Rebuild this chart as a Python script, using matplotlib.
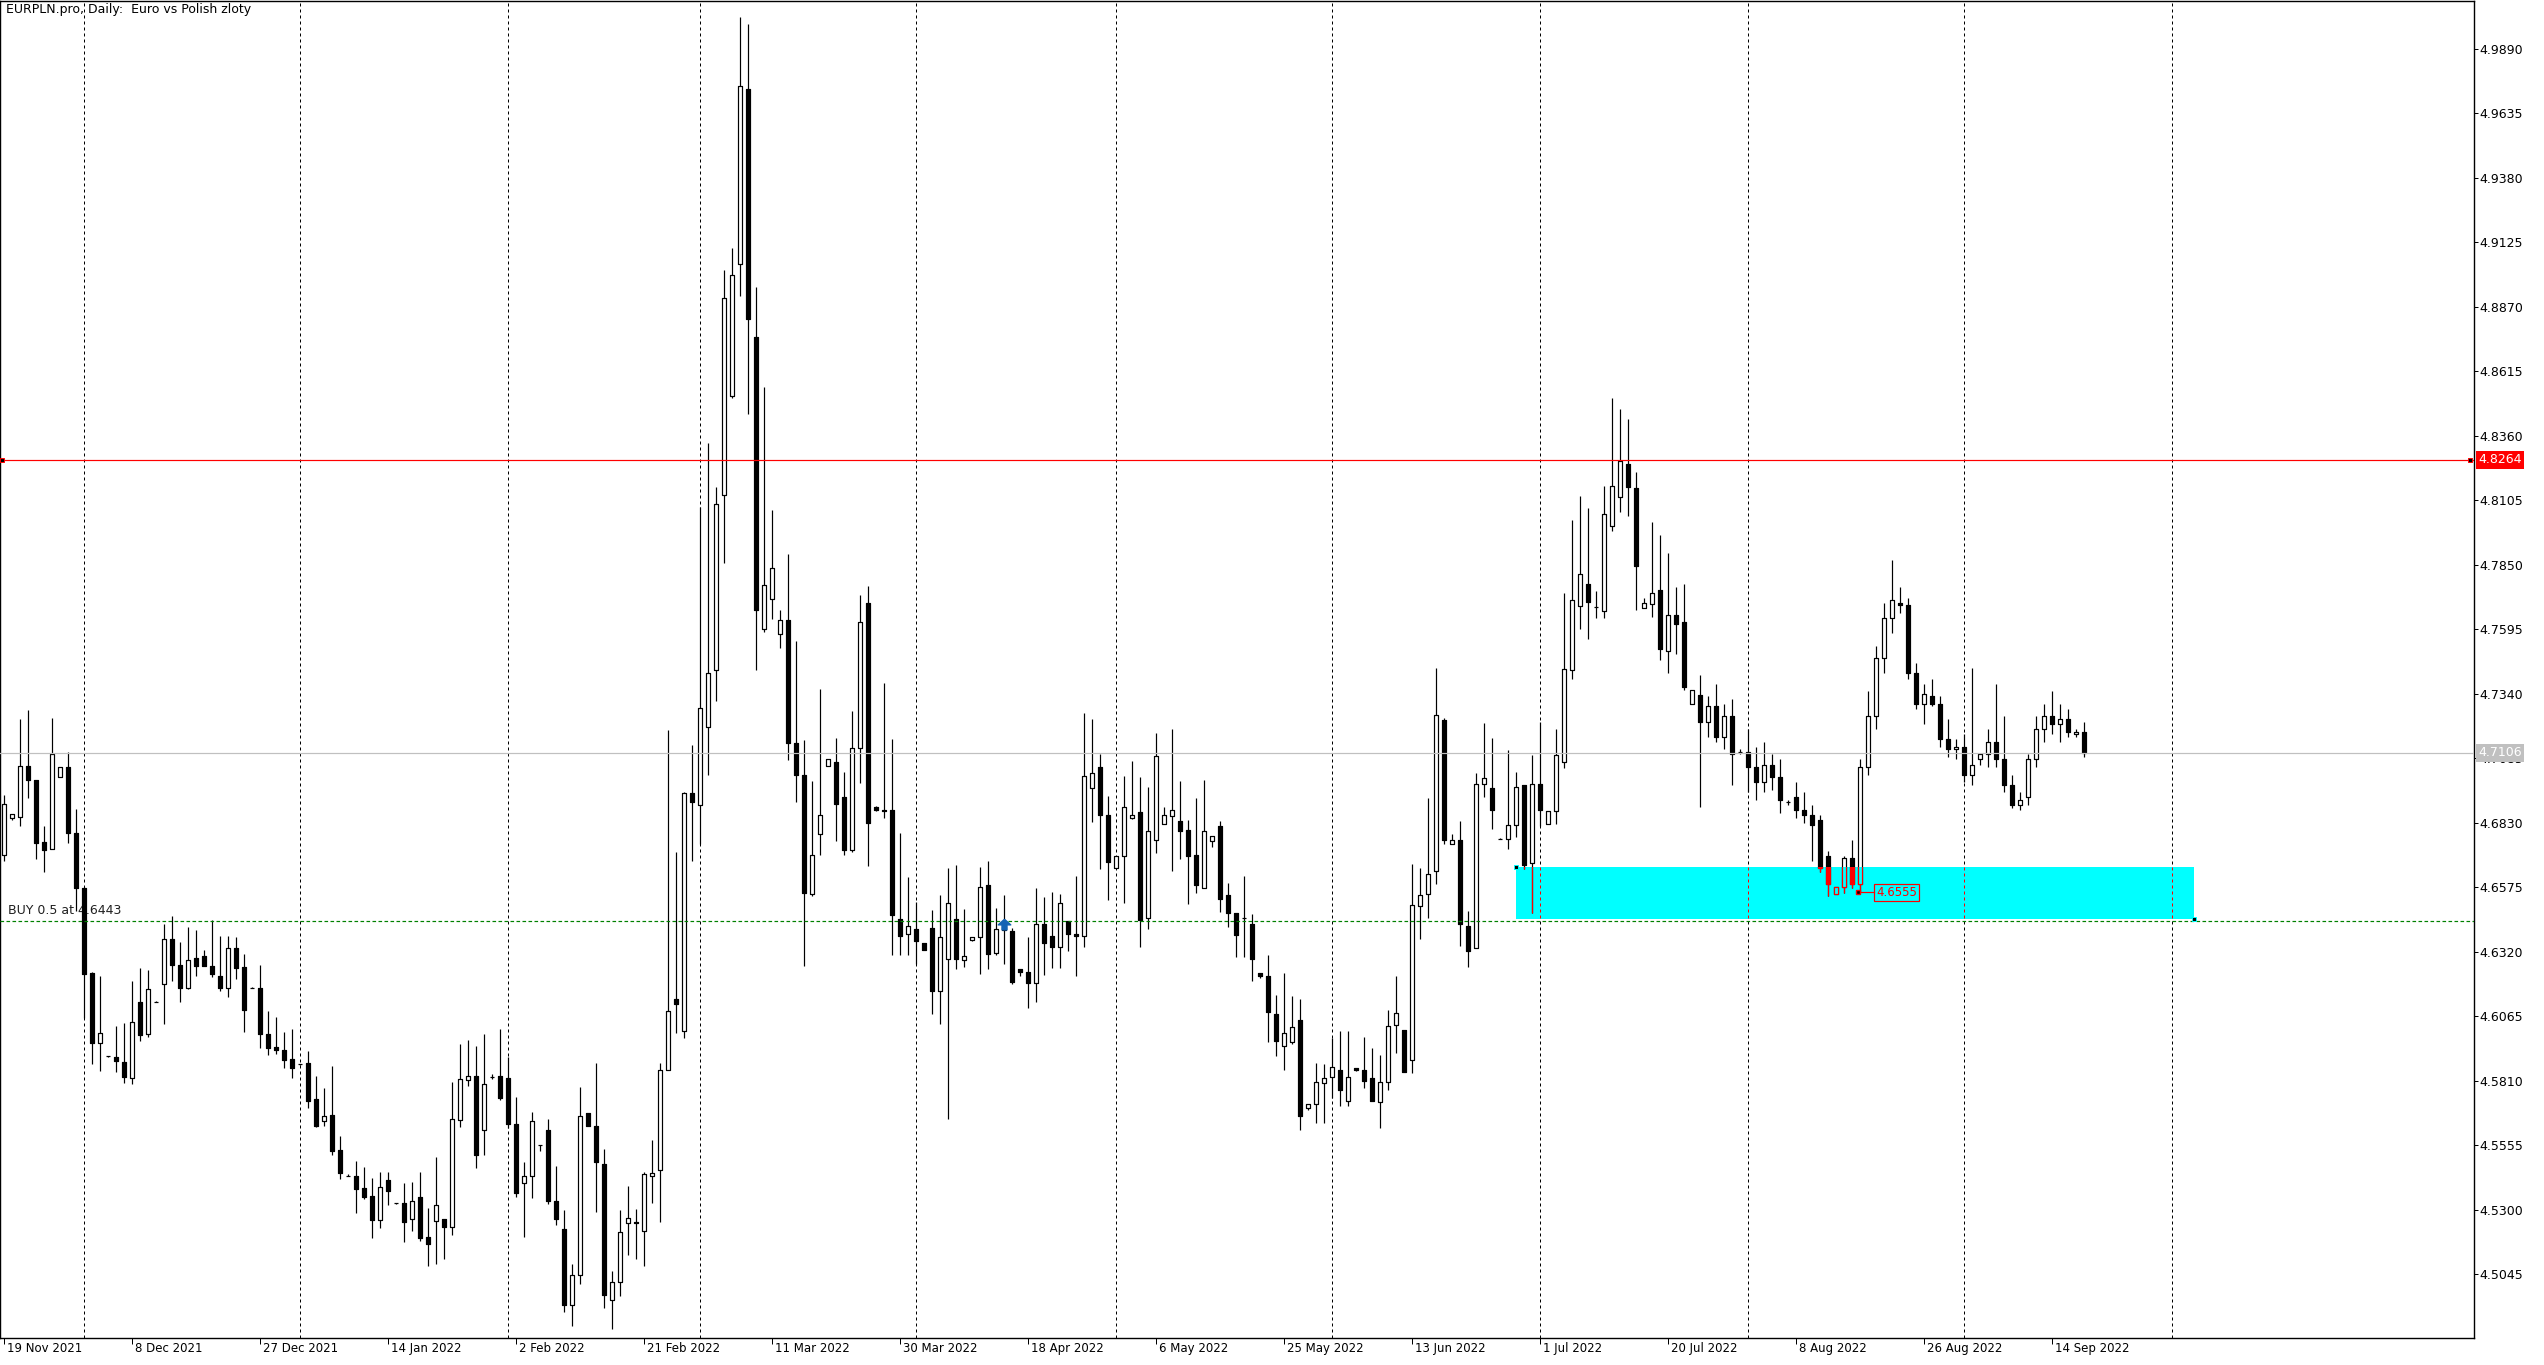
import matplotlib
matplotlib.use("Agg")
import matplotlib.pyplot as plt
import matplotlib.transforms as mtransforms
from matplotlib.collections import LineCollection, PatchCollection
from matplotlib.patches import Rectangle
from matplotlib.path import Path
import pandas as pd

# EURPLN daily bars (broker has Sunday bars, no Saturdays), from 19 Nov 2021
opens = [4.6704, 4.6849, 4.6853, 4.7056, 4.6999, 4.6754, 4.6725, 4.7010, 4.7049, 4.6789,
         4.6573, 4.6236, 4.5958, 4.5907, 4.5904, 4.5882, 4.5821, 4.6120, 4.5995, 4.6123,
         4.6192, 4.6371, 4.6269, 4.6177, 4.6295, 4.6304, 4.6265, 4.6225, 4.6177, 4.6335,
         4.6260, 4.6177, 4.6177, 4.5995, 4.5944, 4.5933, 4.5894, 4.5875, 4.5878, 4.5736,
         4.5649, 4.5675, 4.5535, 4.5435, 4.5432, 4.5385, 4.5356, 4.5258, 4.5419, 4.5326,
         4.5326, 4.5265, 4.5349, 4.5192, 4.5256, 4.5265, 4.5231, 4.5656, 4.5812, 4.5828,
         4.5614, 4.5825, 4.5828, 4.5820, 4.5639, 4.5407, 4.5432, 4.5555, 4.5614, 4.5336,
         4.5225, 4.4925, 4.5041, 4.5684, 4.5631, 4.5482, 4.4941, 4.5013, 4.5248, 4.5252,
         4.5216, 4.5435, 4.5455, 4.5853, 4.6131, 4.6007, 4.6947, 4.6900, 4.7207, 4.7433,
         4.8126, 4.8516, 4.9037, 4.9729, 4.8750, 4.7597, 4.7715, 4.7577, 4.7630, 4.7144,
         4.7018, 4.6547, 4.6786, 4.7056, 4.7068, 4.6930, 4.6721, 4.7124, 4.7698, 4.6892,
         4.6880, 4.6880, 4.6449, 4.6389, 4.6408, 4.6353, 4.6412, 4.6165, 4.6292, 4.6451,
         4.6289, 4.6367, 4.6377, 4.6585, 4.6313, 4.6419, 4.6401, 4.6250, 4.6238, 4.6198,
         4.6429, 4.6384, 4.6339, 4.6440, 4.6388, 4.6384, 4.6969, 4.7051, 4.6861, 4.6652,
         4.6697, 4.6849, 4.6873, 4.6454, 4.6762, 4.6825, 4.6856, 4.6838, 4.6803, 4.6701,
         4.6570, 4.6758, 4.6818, 4.6546, 4.6473, 4.6454, 4.6429, 4.6236, 4.6224, 4.6073,
         4.5949, 4.5961, 4.6048, 4.5703, 4.5718, 4.5801, 4.5824, 4.5852, 4.5730, 4.5862,
         4.5852, 4.5820, 4.5724, 4.5805, 4.6030, 4.6011, 4.5893, 4.6499, 4.6547, 4.6639,
         4.7236, 4.6744, 4.6763, 4.6423, 4.6333, 4.6984, 4.6968, 4.6767, 4.6767, 4.6819,
         4.6978, 4.6672, 4.6982, 4.6825, 4.6878, 4.7070, 4.7433, 4.7686, 4.7772, 4.7682,
         4.7667, 4.8002, 4.8117, 4.8247, 4.8155, 4.7677, 4.7696, 4.7749, 4.7508, 4.7653,
         4.7625, 4.7299, 4.7336, 4.7230, 4.7290, 4.7170, 4.7250, 4.7110, 4.7110, 4.7050,
         4.6990, 4.7060, 4.7010, 4.6910, 4.6930, 4.6880, 4.6860, 4.6840, 4.6700, 4.6550,
         4.6577, 4.6690, 4.6588, 4.7050, 4.7250, 4.7480, 4.7640, 4.7700, 4.7690, 4.7420,
         4.7300, 4.7330, 4.7300, 4.7160, 4.7120, 4.7130, 4.7020, 4.7080, 4.7100, 4.7150,
         4.7080, 4.6980, 4.6900, 4.6930, 4.7080, 4.7200, 4.7250, 4.7220, 4.7240, 4.7180,
         4.7190]
highs = [4.6940, 4.6866, 4.7240, 4.7277, 4.7000, 4.6817, 4.7245, 4.7049, 4.7109, 4.6883,
         4.6576, 4.6240, 4.6225, 4.5909, 4.6028, 4.6040, 4.6203, 4.6254, 4.6247, 4.6125,
         4.6430, 4.6463, 4.6357, 4.6418, 4.6407, 4.6328, 4.6447, 4.6383, 4.6383, 4.6379,
         4.6309, 4.6179, 4.6266, 4.6087, 4.6060, 4.6003, 4.6014, 4.5877, 4.5929, 4.5827,
         4.5783, 4.5868, 4.5593, 4.5443, 4.5493, 4.5468, 4.5427, 4.5449, 4.5449, 4.5328,
         4.5405, 4.5410, 4.5449, 4.5308, 4.5507, 4.5265, 4.5805, 4.5954, 4.5971, 4.5946,
         4.5995, 4.5836, 4.6015, 4.5903, 4.5747, 4.5490, 4.5687, 4.5557, 4.5659, 4.5472,
         4.5299, 4.5084, 4.5787, 4.5684, 4.5879, 4.5538, 4.5057, 4.5299, 4.5394, 4.5303,
         4.5448, 4.5576, 4.5879, 4.7197, 4.6716, 4.6952, 4.7139, 4.8080, 4.8332, 4.8158,
         4.9014, 4.9102, 5.0014, 4.9988, 4.8949, 4.8553, 4.8068, 4.7672, 4.7894, 4.7547,
         4.7156, 4.6993, 4.7358, 4.7081, 4.7164, 4.7031, 4.7270, 4.7730, 4.7766, 4.6897,
         4.7383, 4.7162, 4.6791, 4.6615, 4.6516, 4.6353, 4.6483, 4.6546, 4.6649, 4.6662,
         4.6487, 4.6380, 4.6655, 4.6680, 4.6492, 4.6546, 4.6412, 4.6250, 4.6377, 4.6571,
         4.6536, 4.6557, 4.6550, 4.6440, 4.6621, 4.7263, 4.7241, 4.7100, 4.6934, 4.6697,
         4.7016, 4.7075, 4.7009, 4.6973, 4.7184, 4.6892, 4.7202, 4.6993, 4.6839, 4.6927,
         4.6997, 4.6779, 4.6835, 4.6593, 4.6473, 4.6619, 4.6468, 4.6236, 4.6306, 4.6148,
         4.6236, 4.6144, 4.6133, 4.5717, 4.5881, 4.5877, 4.5977, 4.6005, 4.6005, 4.5862,
         4.5982, 4.5938, 4.5910, 4.6088, 4.6222, 4.6011, 4.6666, 4.6652, 4.6926, 4.7441,
         4.7242, 4.6786, 4.6838, 4.6480, 4.7026, 4.7223, 4.7165, 4.6769, 4.7116, 4.7030,
         4.6978, 4.7098, 4.7227, 4.6878, 4.7202, 4.7738, 4.8025, 4.8122, 4.8073, 4.7747,
         4.8161, 4.8509, 4.8465, 4.8427, 4.8218, 4.7720, 4.8017, 4.7967, 4.7897, 4.7763,
         4.7772, 4.7355, 4.7414, 4.7330, 4.7380, 4.7300, 4.7320, 4.7120, 4.7200, 4.7130,
         4.7150, 4.7100, 4.7080, 4.6920, 4.6990, 4.6950, 4.6900, 4.6860, 4.6720, 4.6577,
         4.6700, 4.6760, 4.7080, 4.7350, 4.7530, 4.7700, 4.7870, 4.7760, 4.7720, 4.7460,
         4.7380, 4.7400, 4.7330, 4.7240, 4.7160, 4.7180, 4.7440, 4.7100, 4.7200, 4.7380,
         4.7250, 4.7020, 4.6950, 4.7100, 4.7250, 4.7300, 4.7350, 4.7300, 4.7280, 4.7200,
         4.7230]
lows = [4.6680, 4.6839, 4.6817, 4.6929, 4.6688, 4.6637, 4.6725, 4.7010, 4.6751, 4.6481,
        4.6057, 4.5875, 4.5849, 4.5905, 4.5846, 4.5802, 4.5797, 4.5967, 4.5984, 4.6121,
        4.6033, 4.6203, 4.6120, 4.6171, 4.6225, 4.6265, 4.6218, 4.6164, 4.6141, 4.6211,
        4.6002, 4.6175, 4.5941, 4.5911, 4.5916, 4.5860, 4.5821, 4.5873, 4.5703, 4.5627,
        4.5631, 4.5517, 4.5422, 4.5432, 4.5286, 4.5341, 4.5187, 4.5228, 4.5319, 4.5324,
        4.5173, 4.5215, 4.5178, 4.5076, 4.5084, 4.5107, 4.5200, 4.5626, 4.5788, 4.5463,
        4.5518, 4.5816, 4.5734, 4.5621, 4.5352, 4.5192, 4.5347, 4.5531, 4.5324, 4.5240,
        4.4897, 4.4839, 4.5008, 4.5631, 4.5289, 4.4910, 4.4830, 4.4958, 4.5120, 4.5107,
        4.5079, 4.5328, 4.5253, 4.5853, 4.5999, 4.5979, 4.6678, 4.6746, 4.7018, 4.7312,
        4.7856, 4.8511, 4.8913, 4.8445, 4.7433, 4.7584, 4.7635, 4.7521, 4.7076, 4.6910,
        4.6263, 4.6540, 4.6703, 4.7056, 4.6759, 4.6703, 4.6716, 4.6985, 4.6658, 4.6875,
        4.6847, 4.6308, 4.6308, 4.6308, 4.6270, 4.6325, 4.6073, 4.6034, 4.5657, 4.6253,
        4.6260, 4.6364, 4.6231, 4.6250, 4.6306, 4.6271, 4.6191, 4.6224, 4.6099, 4.6120,
        4.6229, 4.6257, 4.6257, 4.6323, 4.6222, 4.6337, 4.6832, 4.6645, 4.6525, 4.6650,
        4.6511, 4.6845, 4.6339, 4.6408, 4.6711, 4.6825, 4.6638, 4.6687, 4.6507, 4.6553,
        4.6570, 4.6732, 4.6478, 4.6416, 4.6299, 4.6299, 4.6205, 4.6215, 4.5963, 4.5907,
        4.5851, 4.5954, 4.5615, 4.5696, 4.5642, 4.5642, 4.5743, 4.5709, 4.5709, 4.5850,
        4.5782, 4.5730, 4.5623, 4.5772, 4.5919, 4.5843, 4.5839, 4.6371, 4.6455, 4.6589,
        4.6744, 4.6744, 4.6342, 4.6260, 4.6333, 4.6930, 4.6806, 4.6765, 4.6725, 4.6773,
        4.6647, 4.6474, 4.6815, 4.6825, 4.6825, 4.7045, 4.7399, 4.7596, 4.7556, 4.7638,
        4.7638, 4.7983, 4.8059, 4.8044, 4.7671, 4.7677, 4.7644, 4.7472, 4.7422, 4.7495,
        4.7355, 4.7299, 4.6892, 4.7170, 4.7150, 4.7120, 4.6980, 4.7100, 4.6950, 4.6920,
        4.6950, 4.6960, 4.6870, 4.6900, 4.6850, 4.6830, 4.6680, 4.6637, 4.6542, 4.6548,
        4.6552, 4.6570, 4.6555, 4.7020, 4.7200, 4.7420, 4.7580, 4.7660, 4.7400, 4.7280,
        4.7220, 4.7290, 4.7130, 4.7090, 4.7080, 4.6990, 4.6980, 4.7060, 4.7050, 4.7050,
        4.6950, 4.6890, 4.6880, 4.6900, 4.7050, 4.7150, 4.7180, 4.7150, 4.7170, 4.7170,
        4.7090]
closes = [4.6904, 4.6864, 4.7056, 4.6999, 4.6751, 4.6722, 4.7100, 4.7049, 4.6789, 4.6573,
          4.6230, 4.5958, 4.5999, 4.5907, 4.5889, 4.5824, 4.6043, 4.5992, 4.6174, 4.6123,
          4.6371, 4.6266, 4.6177, 4.6288, 4.6262, 4.6265, 4.6230, 4.6177, 4.6335, 4.6257,
          4.6090, 4.6177, 4.5995, 4.5938, 4.5930, 4.5892, 4.5860, 4.5875, 4.5729, 4.5631,
          4.5670, 4.5531, 4.5444, 4.5435, 4.5382, 4.5352, 4.5258, 4.5389, 4.5372, 4.5326,
          4.5253, 4.5336, 4.5190, 4.5165, 4.5319, 4.5231, 4.5659, 4.5817, 4.5828, 4.5515,
          4.5795, 4.5825, 4.5742, 4.5637, 4.5366, 4.5432, 4.5651, 4.5555, 4.5333, 4.5265,
          4.4925, 4.5041, 4.5672, 4.5631, 4.5488, 4.4963, 4.5013, 4.5211, 4.5266, 4.5248,
          4.5440, 4.5444, 4.5853, 4.6085, 4.6112, 4.6947, 4.6912, 4.7282, 4.7421, 4.8088,
          4.8906, 4.8994, 4.9744, 4.8823, 4.7672, 4.7768, 4.7836, 4.7630, 4.7144, 4.7018,
          4.6552, 4.6703, 4.6862, 4.7081, 4.6905, 4.6721, 4.7124, 4.7622, 4.6829, 4.6880,
          4.6876, 4.6464, 4.6384, 4.6421, 4.6363, 4.6325, 4.6165, 4.6377, 4.6514, 4.6292,
          4.6302, 4.6377, 4.6574, 4.6309, 4.6408, 4.6405, 4.6200, 4.6238, 4.6198, 4.6429,
          4.6353, 4.6339, 4.6511, 4.6388, 4.6381, 4.7016, 4.7026, 4.6861, 4.6673, 4.6697,
          4.6892, 4.6861, 4.6444, 4.6797, 4.7093, 4.6861, 4.6882, 4.6797, 4.6698, 4.6584,
          4.6796, 4.6779, 4.6529, 4.6473, 4.6387, 4.6454, 4.6292, 4.6222, 4.6081, 4.5968,
          4.6000, 4.6024, 4.5669, 4.5717, 4.5806, 4.5820, 4.5864, 4.5772, 4.5826, 4.5854,
          4.5810, 4.5730, 4.5805, 4.6025, 4.6078, 4.5843, 4.6505, 4.6543, 4.6628, 4.7255,
          4.6763, 4.6763, 4.6429, 4.6323, 4.6984, 4.7007, 4.6882, 4.6767, 4.6819, 4.6972,
          4.6662, 4.6982, 4.6882, 4.6878, 4.7096, 4.7437, 4.7709, 4.7814, 4.7701, 4.7682,
          4.8050, 4.8161, 4.8260, 4.8159, 4.7843, 4.7699, 4.7740, 4.7518, 4.7653, 4.7615,
          4.7366, 4.7355, 4.7230, 4.7290, 4.7170, 4.7250, 4.7100, 4.7110, 4.7050, 4.6990,
          4.7060, 4.7010, 4.6920, 4.6910, 4.6880, 4.6860, 4.6820, 4.6650, 4.6588, 4.6577,
          4.6690, 4.6588, 4.7050, 4.7250, 4.7480, 4.7640, 4.7710, 4.7690, 4.7420, 4.7300,
          4.7340, 4.7300, 4.7160, 4.7120, 4.7130, 4.7020, 4.7060, 4.7100, 4.7150, 4.7080,
          4.6980, 4.6900, 4.6920, 4.7080, 4.7200, 4.7250, 4.7220, 4.7240, 4.7190, 4.7190,
          4.7106]

first_day = "2021-11-19"
tick_labels = ["19 Nov 2021", "8 Dec 2021", "27 Dec 2021", "14 Jan 2022", "2 Feb 2022",
               "21 Feb 2022", "11 Mar 2022", "30 Mar 2022", "18 Apr 2022", "6 May 2022",
               "25 May 2022", "13 Jun 2022", "1 Jul 2022", "20 Jul 2022", "8 Aug 2022",
               "26 Aug 2022", "14 Sep 2022"]
price_ticks = [4.5045, 4.5300, 4.5555, 4.5810, 4.6065, 4.6320, 4.6575, 4.6830, 4.7085, 4.7340,
               4.7595, 4.7850, 4.8105, 4.8360, 4.8615, 4.8870, 4.9125, 4.9380, 4.9635, 4.9890]

level_red = 4.8264
bid = 4.7106
buy_price = 4.6443
buy_day = "2022-04-14"
zone_from, zone_to = "2022-06-28", "2022-10-05"
zone_high, zone_low = 4.6656, 4.6451
mark_price = 4.6555
mark_day = "2022-08-16"

# calendar of bars: every day except Saturday
cal = pd.date_range(first_day, "2022-12-31")
cal = cal[cal.dayofweek != 5]


def bar_of(day):
    return cal.get_loc(pd.Timestamp(day))


PX = 0.72  # one pixel in points at dpi 100
W, H = 2544, 1365

fig = plt.figure(figsize=(W / 100, H / 100), dpi=100)
ax = fig.add_axes([0, 27 / H, 2474 / W, 1337 / H])
ax.set_xlim(-0.5, 308.75)
ax.set_ylim(4.47927, 5.00786)

# month separators (dashed)
months = [i for i in range(1, 276) if cal[i].month != cal[i - 1].month]
for m in months:
    ax.axvline(m, color="black", lw=PX, ls=(0, (3, 3)), zorder=0.5)

# trade zone rectangle
z0, z1 = bar_of(zone_from), bar_of(zone_to) - 0.25
ax.add_patch(Rectangle((z0, zone_low), z1 - z0, zone_high - zone_low,
                       facecolor="#00FFFF", edgecolor="none", zorder=1))
clip_rect = Rectangle((z0, zone_low), z1 - z0, zone_high - zone_low, transform=ax.transData)
for m in months:
    if z0 < m < z1:
        ln = ax.axvline(m, color="red", lw=PX, ls=(0, (3, 3)), zorder=1.1)
        ln.set_clip_path(clip_rect)


def candles(up_face, down_face, edge, z, clip=None):
    segs = [[(i, lo), (i, hi)] for i, (lo, hi) in enumerate(zip(lows, highs))]
    wick = LineCollection(segs, colors=edge, linewidths=PX * 1.2, zorder=z)
    bw = 0.5
    bodies, faces = [], []
    for i, (o, c) in enumerate(zip(opens, closes)):
        bodies.append(Rectangle((i - bw / 2, min(o, c)), bw, abs(c - o)))
        faces.append(up_face if c >= o else down_face)
    body = PatchCollection(bodies, facecolors=faces, edgecolors=edge,
                           linewidths=PX * 1.2, zorder=z + 0.1)
    ax.add_collection(wick)
    ax.add_collection(body)
    if clip is not None:
        wick.set_clip_path(clip)
        body.set_clip_path(clip)


ax.text(0.55, buy_price + 0.0013, "BUY 0.5 at %.4f" % buy_price, fontsize=9,
        color="#202020", va="bottom", ha="left", zorder=1.2)

candles("white", "black", "black", 2)
candles("#00FFFF", "red", "red", 3, clip=clip_rect)

# horizontal levels
ax.axhline(level_red, color="red", lw=PX * 1.2, zorder=4)
ax.axhline(bid, color="#c0c0c0", lw=PX * 1.2, zorder=4)
ax.axhline(buy_price, color="#008000", lw=PX * 1.2, ls=(0, (3, 2)), zorder=4)
ax.plot([-0.2, 308.3], [level_red, level_red], ls="none", marker="s", ms=3.5,
        mfc="black", mec="red", mew=0.7, zorder=5)
ax.plot([z0, z1], [zone_high, zone_low], ls="none", marker="s", ms=3.5,
        mfc="black", mec="#00FFFF", mew=0.7, zorder=5)

# buy arrow
arrow = Path([(0, 1), (1, 0.1), (0.4, 0.1), (0.4, -0.7), (-0.4, -0.7), (-0.4, 0.1),
              (-1, 0.1), (0, 1)])
ax.plot([bar_of(buy_day)], [buy_price - 0.0018], marker=arrow, ms=9, color="#1464B4",
        mec="#1464B4", ls="none", zorder=5)

# price mark
mb = bar_of(mark_day) + 0.7
ax.plot([mb, mb + 2.1], [mark_price, mark_price], color="red", lw=PX * 1.2, zorder=5)
ax.plot([mb], [mark_price], marker="s", ms=3.5, mfc="black", mec="red", ls="none", zorder=5)
ax.text(mb + 2.3, mark_price, "%.4f" % mark_price, color="red", fontsize=8.5,
        va="center", ha="left", zorder=5,
        bbox=dict(boxstyle="square,pad=0.15", facecolor="none", edgecolor="red", lw=PX * 1.2))

# axes styling
for s in ax.spines.values():
    s.set_linewidth(PX * 1.4)
ax.yaxis.tick_right()
ax.set_yticks(price_ticks)
ax.set_yticklabels(["%.4f" % p for p in price_ticks])
ax.tick_params(axis="y", direction="out", length=3, width=PX, pad=1, labelsize=9)
ax.set_xticks(range(0, 16 * len(tick_labels), 16))
ax.set_xticklabels(tick_labels, ha="left")
ax.tick_params(axis="x", direction="out", length=4, width=PX, pad=-1, labelsize=8.5)
shift = mtransforms.ScaledTranslation(3 / 100, 0, fig.dpi_scale_trans)
for lab in ax.get_xticklabels():
    lab.set_transform(lab.get_transform() + shift)

# price tags on the right scale
for val, col in [(level_red, "red"), (bid, "#c0c0c0")]:
    ax.annotate("%.4f" % val, xy=(1.0, val), xycoords=("axes fraction", "data"),
                xytext=(4, 0), textcoords="offset pixels", fontsize=9, color="white",
                va="center", ha="left", annotation_clip=False, zorder=10,
                bbox=dict(boxstyle="square,pad=0.2", facecolor=col, edgecolor="none"))

fig.text(6 / W, 1 - 3 / H, "EURPLN.pro, Daily:  Euro vs Polish zloty", fontsize=9,
         va="top", ha="left")

fig.savefig("out.png", dpi=100)
